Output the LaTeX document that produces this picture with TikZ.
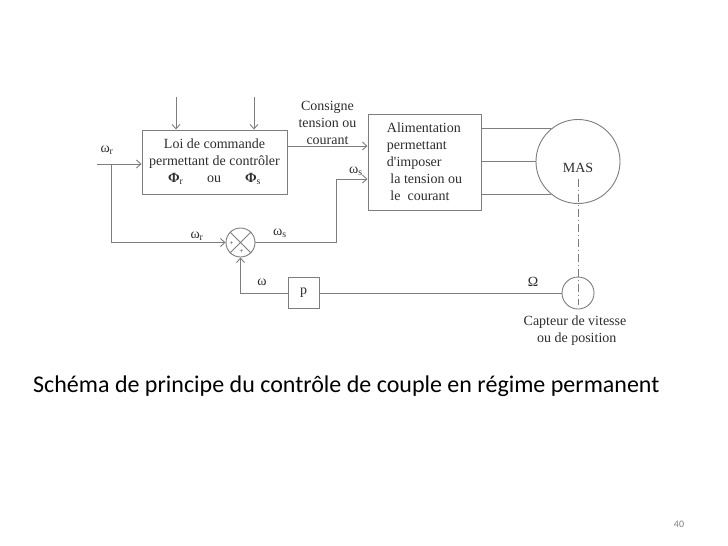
\documentclass[tikz,border=0pt]{standalone}
\usepackage{fontspec}
\setmainfont{Liberation Serif}
\newfontfamily\slidefont{Carlito}
\usepackage{xcolor}
\usetikzlibrary{arrows.meta,positioning,calc}
\definecolor{wirecol}{RGB}{125,125,125}
\definecolor{inkcol}{RGB}{45,45,45}

\begin{document}
\begin{tikzpicture}[x=1pt, y=-1pt,
  block/.style={draw=wirecol, line width=0.9pt, inner sep=0pt, align=center, font=\fontsize{14}{17}\selectfont, text=inkcol},
  ring/.style={draw=wirecol, line width=0.9pt, circle, inner sep=0pt},
  wire/.style={draw=wirecol, line width=0.9pt},
  arr/.style={wire, -{Straight Barb[length=4.5pt, width=8pt]}},
  axisline/.style={wire, dash pattern=on 8pt off 3pt on 1pt off 3pt},
  lbl/.style={font=\fontsize{14}{17}\selectfont, text=inkcol, inner sep=1pt},
  sgn/.style={font=\fontsize{7}{7}\selectfont, text=inkcol, inner sep=0pt}
]
\useasboundingbox (0,0) rectangle (728,546);

% blocs
\node[block, minimum width=145pt, minimum height=64pt] (loi) at (214.5,162)
  {Loi de commande\\permettant de contrôler\\\textbf{Φ}\textsubscript{r}\hspace{1.7em}ou\hspace{1.7em}\textbf{Φ}\textsubscript{s}};
\node[block, minimum width=113pt, minimum height=96pt, align=left] (alim) at (424.5,162)
  {Alimentation\\ permettant\\ d\textquotesingle imposer\\ \ la tension ou\\ \ le\ \ courant};
\node[ring, minimum size=84pt] (mas) at (578,161.5) {};
\node[lbl] (maslbl) at ([yshift=-6pt]mas.center) {MAS};
\node[ring, minimum size=32pt, below=72.6pt of mas] (capt) {};
\node[lbl, below=5pt of capt, align=center, xshift=-3pt] (captlbl) {Capteur de vitesse\\ \ ou de position};
\node[block, minimum width=31pt, minimum height=31pt] (gain) at (303.5,293) {p};
\node[ring, minimum size=29pt] (sum) at (240.5,242.5) {};
\draw[wire] (sum.45) -- (sum.225) (sum.135) -- (sum.315);
\node[sgn] (plusa) at ([xshift=-9pt, yshift=-1pt]sum.center) {+};
\node[sgn] (plusb) at ([xshift=1pt, yshift=-9pt]sum.center) {+};

% entrees
\coordinate (wrin) at (97,164);
\coordinate (wrsplit) at (111,164);
\coordinate (ina) at (176,97);
\coordinate (inb) at (254,97);
\draw[arr] (wrin) -- (wrin -| loi.west);
\draw[arr] (wrsplit) |- (sum.west);
\draw[arr] (ina) -- (ina |- loi.north);
\draw[arr] (inb) -- (inb |- loi.north);

% liaisons
\draw[arr] ([yshift=16pt]loi.east) -- node[lbl, above, align=center] {Consigne\\tension ou\\courant} ([yshift=16pt]loi.east -| alim.west);
\draw[arr] (sum.east) -- ++(81,0) |- ([yshift=-17pt]alim.west);
\draw[wire] (alim.east |- mas.129) -- (mas.129);
\draw[wire] (alim.east |- mas.west) -- (mas.west);
\draw[wire] (alim.east |- mas.231) -- (mas.231);
\draw[axisline] ([yshift=-17pt]mas.center) -- ([yshift=-12pt]capt.center);
\draw[wire] (capt.west) -- (gain.east);
\draw[arr] (gain.west) -| (sum.south);

% etiquettes
\node[lbl] (wrtop) at (107,150) {ω\textsubscript{r}};
\node[lbl] (wrbot) at (197,236) {ω\textsubscript{r}};
\node[lbl] (wsbot) at (280,233) {ω\textsubscript{s}};
\node[lbl] (wsalim) at (356,171) {ω\textsubscript{s}};
\node[lbl] (wfb) at (262,282) {ω};
\node[lbl] (omega) at (533,282) {Ω};

\node[font=\slidefont\fontsize{24}{28}\selectfont, anchor=west, inner sep=0pt] (titre) at (33,386)
  {Schéma de principe du contrôle de couple en régime permanent};
\node[font=\slidefont\fontsize{10}{12}\selectfont, text=gray, inner sep=0pt] (page) at (679,524) {40};
\end{tikzpicture}
\end{document}
